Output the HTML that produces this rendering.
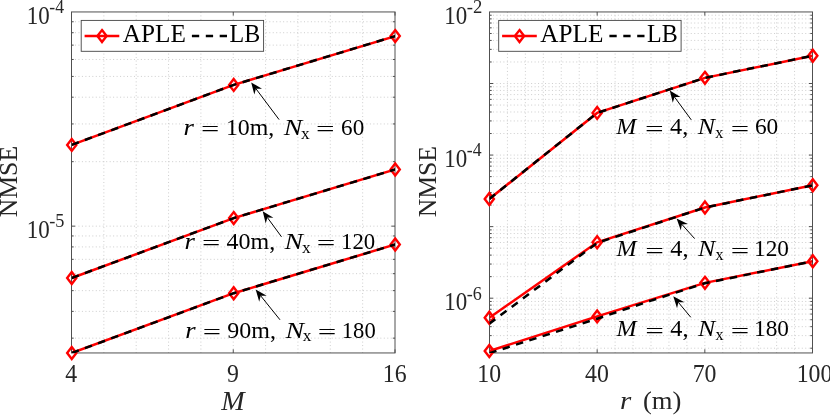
<!DOCTYPE html>
<html><head><meta charset="utf-8"><title>NMSE</title>
<style>html,body{margin:0;padding:0;background:#fff}svg{display:block}text{font-family:"Liberation Serif", serif}</style></head><body>
<svg width="830" height="417" viewBox="0 0 830 417">
<rect width="830" height="417" fill="#fff"/>
<clipPath id="c1"><rect x="71.5" y="11.95" width="323.5" height="341"/></clipPath>
<g stroke="#c8c8c8" stroke-width="0.9" stroke-dasharray="1 2.47" fill="none">
<path d="M71.5 338.15H395"/>
<path d="M71.5 311.39H395"/>
<path d="M71.5 290.63H395"/>
<path d="M71.5 273.67H395"/>
<path d="M71.5 259.33H395"/>
<path d="M71.5 246.91H395"/>
<path d="M71.5 235.95H395"/>
<path d="M71.5 226.15H395"/>
<path d="M71.5 161.67H395"/>
<path d="M71.5 123.95H395"/>
<path d="M71.5 97.19H395"/>
<path d="M71.5 76.43H395"/>
<path d="M71.5 59.47H395"/>
<path d="M71.5 45.13H395"/>
<path d="M71.5 32.71H395"/>
<path d="M71.5 21.75H395"/>
<path d="M103.85 11.95V352.95"/>
<path d="M136.2 11.95V352.95"/>
<path d="M168.55 11.95V352.95"/>
<path d="M200.9 11.95V352.95"/>
<path d="M233.25 11.95V352.95"/>
<path d="M265.6 11.95V352.95"/>
<path d="M297.95 11.95V352.95"/>
<path d="M330.3 11.95V352.95"/>
<path d="M362.65 11.95V352.95"/>
</g>
<g stroke="#505050" stroke-width="1" fill="none">
<path d="M71.5 338.15h2.2M395 338.15h-2.2"/>
<path d="M71.5 311.39h2.2M395 311.39h-2.2"/>
<path d="M71.5 290.63h2.2M395 290.63h-2.2"/>
<path d="M71.5 273.67h2.2M395 273.67h-2.2"/>
<path d="M71.5 259.33h2.2M395 259.33h-2.2"/>
<path d="M71.5 246.91h2.2M395 246.91h-2.2"/>
<path d="M71.5 235.95h2.2M395 235.95h-2.2"/>
<path d="M71.5 226.15h3.6M395 226.15h-3.6"/>
<path d="M71.5 161.67h2.2M395 161.67h-2.2"/>
<path d="M71.5 123.95h2.2M395 123.95h-2.2"/>
<path d="M71.5 97.19h2.2M395 97.19h-2.2"/>
<path d="M71.5 76.43h2.2M395 76.43h-2.2"/>
<path d="M71.5 59.47h2.2M395 59.47h-2.2"/>
<path d="M71.5 45.13h2.2M395 45.13h-2.2"/>
<path d="M71.5 32.71h2.2M395 32.71h-2.2"/>
<path d="M71.5 21.75h2.2M395 21.75h-2.2"/>
<path d="M71.5 352.95v-3.6M71.5 11.95v3.6"/>
<path d="M233.25 352.95v-3.6M233.25 11.95v3.6"/>
<path d="M395 352.95v-3.6M395 11.95v3.6"/>
<rect x="71.5" y="11.95" width="323.5" height="341"/>
</g>
<g clip-path="url(#c1)" fill="none" stroke-width="2.5" stroke="#f00">
<polyline points="71.75,144.9 233.7,84.9 395.2,36.1"/>
<polyline points="71.75,278 233.7,218.1 395.2,169.5"/>
<polyline points="71.75,353 233.7,293.2 395.2,244.5"/>
</g>
<path d="M71.75 138.9L76.35 144.9L71.75 150.9L67.15 144.9Z" fill="none" stroke="#f00" stroke-width="2.4" stroke-linejoin="miter"/>
<path d="M233.7 78.9L238.3 84.9L233.7 90.9L229.1 84.9Z" fill="none" stroke="#f00" stroke-width="2.4" stroke-linejoin="miter"/>
<path d="M395.2 30.1L399.8 36.1L395.2 42.1L390.6 36.1Z" fill="none" stroke="#f00" stroke-width="2.4" stroke-linejoin="miter"/>
<path d="M71.75 272L76.35 278L71.75 284L67.15 278Z" fill="none" stroke="#f00" stroke-width="2.4" stroke-linejoin="miter"/>
<path d="M233.7 212.1L238.3 218.1L233.7 224.1L229.1 218.1Z" fill="none" stroke="#f00" stroke-width="2.4" stroke-linejoin="miter"/>
<path d="M395.2 163.5L399.8 169.5L395.2 175.5L390.6 169.5Z" fill="none" stroke="#f00" stroke-width="2.4" stroke-linejoin="miter"/>
<path d="M71.75 347L76.35 353L71.75 359L67.15 353Z" fill="none" stroke="#f00" stroke-width="2.4" stroke-linejoin="miter"/>
<path d="M233.7 287.2L238.3 293.2L233.7 299.2L229.1 293.2Z" fill="none" stroke="#f00" stroke-width="2.4" stroke-linejoin="miter"/>
<path d="M395.2 238.5L399.8 244.5L395.2 250.5L390.6 244.5Z" fill="none" stroke="#f00" stroke-width="2.4" stroke-linejoin="miter"/>
<g clip-path="url(#c1)" fill="none" stroke-width="2.5" stroke="#000" stroke-dasharray="7.5 6.5">
<polyline points="71.75,144.9 233.7,84.9 395.2,36.1"/>
<polyline points="71.75,278 233.7,218.1 395.2,169.5"/>
<polyline points="71.75,353 233.7,293.2 395.2,244.5"/>
</g>
<clipPath id="c2"><rect x="489.5" y="11.95" width="323" height="341"/></clipPath>
<g stroke="#c8c8c8" stroke-width="0.9" stroke-dasharray="1 2.47" fill="none">
<path d="M489.5 348.21H812.5"/>
<path d="M489.5 335.61H812.5"/>
<path d="M489.5 326.67H812.5"/>
<path d="M489.5 319.73H812.5"/>
<path d="M489.5 314.07H812.5"/>
<path d="M489.5 309.27H812.5"/>
<path d="M489.5 305.12H812.5"/>
<path d="M489.5 301.46H812.5"/>
<path d="M489.5 298.19H812.5"/>
<path d="M489.5 276.65H812.5"/>
<path d="M489.5 264.05H812.5"/>
<path d="M489.5 255.11H812.5"/>
<path d="M489.5 248.17H812.5"/>
<path d="M489.5 242.51H812.5"/>
<path d="M489.5 237.71H812.5"/>
<path d="M489.5 233.56H812.5"/>
<path d="M489.5 229.9H812.5"/>
<path d="M489.5 226.63H812.5"/>
<path d="M489.5 205.09H812.5"/>
<path d="M489.5 192.49H812.5"/>
<path d="M489.5 183.55H812.5"/>
<path d="M489.5 176.61H812.5"/>
<path d="M489.5 170.95H812.5"/>
<path d="M489.5 166.15H812.5"/>
<path d="M489.5 162H812.5"/>
<path d="M489.5 158.34H812.5"/>
<path d="M489.5 155.07H812.5"/>
<path d="M489.5 133.53H812.5"/>
<path d="M489.5 120.93H812.5"/>
<path d="M489.5 111.99H812.5"/>
<path d="M489.5 105.05H812.5"/>
<path d="M489.5 99.39H812.5"/>
<path d="M489.5 94.59H812.5"/>
<path d="M489.5 90.44H812.5"/>
<path d="M489.5 86.78H812.5"/>
<path d="M489.5 83.51H812.5"/>
<path d="M489.5 61.97H812.5"/>
<path d="M489.5 49.37H812.5"/>
<path d="M489.5 40.43H812.5"/>
<path d="M489.5 33.49H812.5"/>
<path d="M489.5 27.83H812.5"/>
<path d="M489.5 23.03H812.5"/>
<path d="M489.5 18.88H812.5"/>
<path d="M489.5 15.22H812.5"/>
<path d="M507.44 11.95V352.95"/>
<path d="M525.39 11.95V352.95"/>
<path d="M543.33 11.95V352.95"/>
<path d="M561.28 11.95V352.95"/>
<path d="M579.22 11.95V352.95"/>
<path d="M597.17 11.95V352.95"/>
<path d="M615.11 11.95V352.95"/>
<path d="M633.06 11.95V352.95"/>
<path d="M651 11.95V352.95"/>
<path d="M668.94 11.95V352.95"/>
<path d="M686.89 11.95V352.95"/>
<path d="M704.83 11.95V352.95"/>
<path d="M722.78 11.95V352.95"/>
<path d="M740.72 11.95V352.95"/>
<path d="M758.67 11.95V352.95"/>
<path d="M776.61 11.95V352.95"/>
<path d="M794.56 11.95V352.95"/>
</g>
<g stroke="#505050" stroke-width="1" fill="none">
<path d="M489.5 348.21h2.2M812.5 348.21h-2.2"/>
<path d="M489.5 335.61h2.2M812.5 335.61h-2.2"/>
<path d="M489.5 326.67h2.2M812.5 326.67h-2.2"/>
<path d="M489.5 319.73h2.2M812.5 319.73h-2.2"/>
<path d="M489.5 314.07h2.2M812.5 314.07h-2.2"/>
<path d="M489.5 309.27h2.2M812.5 309.27h-2.2"/>
<path d="M489.5 305.12h2.2M812.5 305.12h-2.2"/>
<path d="M489.5 301.46h2.2M812.5 301.46h-2.2"/>
<path d="M489.5 298.19h3.6M812.5 298.19h-3.6"/>
<path d="M489.5 276.65h2.2M812.5 276.65h-2.2"/>
<path d="M489.5 264.05h2.2M812.5 264.05h-2.2"/>
<path d="M489.5 255.11h2.2M812.5 255.11h-2.2"/>
<path d="M489.5 248.17h2.2M812.5 248.17h-2.2"/>
<path d="M489.5 242.51h2.2M812.5 242.51h-2.2"/>
<path d="M489.5 237.71h2.2M812.5 237.71h-2.2"/>
<path d="M489.5 233.56h2.2M812.5 233.56h-2.2"/>
<path d="M489.5 229.9h2.2M812.5 229.9h-2.2"/>
<path d="M489.5 226.63h3.6M812.5 226.63h-3.6"/>
<path d="M489.5 205.09h2.2M812.5 205.09h-2.2"/>
<path d="M489.5 192.49h2.2M812.5 192.49h-2.2"/>
<path d="M489.5 183.55h2.2M812.5 183.55h-2.2"/>
<path d="M489.5 176.61h2.2M812.5 176.61h-2.2"/>
<path d="M489.5 170.95h2.2M812.5 170.95h-2.2"/>
<path d="M489.5 166.15h2.2M812.5 166.15h-2.2"/>
<path d="M489.5 162h2.2M812.5 162h-2.2"/>
<path d="M489.5 158.34h2.2M812.5 158.34h-2.2"/>
<path d="M489.5 155.07h3.6M812.5 155.07h-3.6"/>
<path d="M489.5 133.53h2.2M812.5 133.53h-2.2"/>
<path d="M489.5 120.93h2.2M812.5 120.93h-2.2"/>
<path d="M489.5 111.99h2.2M812.5 111.99h-2.2"/>
<path d="M489.5 105.05h2.2M812.5 105.05h-2.2"/>
<path d="M489.5 99.39h2.2M812.5 99.39h-2.2"/>
<path d="M489.5 94.59h2.2M812.5 94.59h-2.2"/>
<path d="M489.5 90.44h2.2M812.5 90.44h-2.2"/>
<path d="M489.5 86.78h2.2M812.5 86.78h-2.2"/>
<path d="M489.5 83.51h3.6M812.5 83.51h-3.6"/>
<path d="M489.5 61.97h2.2M812.5 61.97h-2.2"/>
<path d="M489.5 49.37h2.2M812.5 49.37h-2.2"/>
<path d="M489.5 40.43h2.2M812.5 40.43h-2.2"/>
<path d="M489.5 33.49h2.2M812.5 33.49h-2.2"/>
<path d="M489.5 27.83h2.2M812.5 27.83h-2.2"/>
<path d="M489.5 23.03h2.2M812.5 23.03h-2.2"/>
<path d="M489.5 18.88h2.2M812.5 18.88h-2.2"/>
<path d="M489.5 15.22h2.2M812.5 15.22h-2.2"/>
<path d="M489.5 352.95v-3.6M489.5 11.95v3.6"/>
<path d="M597.17 352.95v-3.6M597.17 11.95v3.6"/>
<path d="M704.83 352.95v-3.6M704.83 11.95v3.6"/>
<path d="M812.5 352.95v-3.6M812.5 11.95v3.6"/>
<rect x="489.5" y="11.95" width="323" height="341"/>
</g>
<g clip-path="url(#c2)" fill="none" stroke-width="2.5" stroke="#f00">
<polyline points="489.3,198.95 597.15,112.9 704.95,77.85 812.8,55.75"/>
<polyline points="489.3,317.8 597.15,242.3 704.95,207.5 812.8,185.3"/>
<polyline points="489.3,351 597.15,316.4 704.95,282.85 812.8,261.3"/>
</g>
<path d="M489.3 192.95L493.9 198.95L489.3 204.95L484.7 198.95Z" fill="none" stroke="#f00" stroke-width="2.4" stroke-linejoin="miter"/>
<path d="M597.15 106.9L601.75 112.9L597.15 118.9L592.55 112.9Z" fill="none" stroke="#f00" stroke-width="2.4" stroke-linejoin="miter"/>
<path d="M704.95 71.85L709.55 77.85L704.95 83.85L700.35 77.85Z" fill="none" stroke="#f00" stroke-width="2.4" stroke-linejoin="miter"/>
<path d="M812.8 49.75L817.4 55.75L812.8 61.75L808.2 55.75Z" fill="none" stroke="#f00" stroke-width="2.4" stroke-linejoin="miter"/>
<path d="M489.3 311.8L493.9 317.8L489.3 323.8L484.7 317.8Z" fill="none" stroke="#f00" stroke-width="2.4" stroke-linejoin="miter"/>
<path d="M597.15 236.3L601.75 242.3L597.15 248.3L592.55 242.3Z" fill="none" stroke="#f00" stroke-width="2.4" stroke-linejoin="miter"/>
<path d="M704.95 201.5L709.55 207.5L704.95 213.5L700.35 207.5Z" fill="none" stroke="#f00" stroke-width="2.4" stroke-linejoin="miter"/>
<path d="M812.8 179.3L817.4 185.3L812.8 191.3L808.2 185.3Z" fill="none" stroke="#f00" stroke-width="2.4" stroke-linejoin="miter"/>
<path d="M489.3 345L493.9 351L489.3 357L484.7 351Z" fill="none" stroke="#f00" stroke-width="2.4" stroke-linejoin="miter"/>
<path d="M597.15 310.4L601.75 316.4L597.15 322.4L592.55 316.4Z" fill="none" stroke="#f00" stroke-width="2.4" stroke-linejoin="miter"/>
<path d="M704.95 276.85L709.55 282.85L704.95 288.85L700.35 282.85Z" fill="none" stroke="#f00" stroke-width="2.4" stroke-linejoin="miter"/>
<path d="M812.8 255.3L817.4 261.3L812.8 267.3L808.2 261.3Z" fill="none" stroke="#f00" stroke-width="2.4" stroke-linejoin="miter"/>
<g clip-path="url(#c2)" fill="none" stroke-width="2.5" stroke="#000" stroke-dasharray="7.5 6.5">
<polyline points="489.3,198.95 597.15,112.9 704.95,77.85 812.8,55.75"/>
<polyline points="489.3,323.7 597.15,242.9 704.95,207.5 812.8,185.3"/>
</g>
<g clip-path="url(#c2)" fill="none" stroke-width="2.5" stroke="#000" stroke-dasharray="7.5 6.5">
<polyline points="489.3,353.2 597.15,318.7 651.05,300.6 704.95,283.2 812.8,261.3"/>
</g>
<rect x="81.2" y="20.4" width="182.4" height="30.9" fill="#fff" stroke="#444" stroke-width="0.9"/>
<line x1="84.6" y1="36" x2="119.3" y2="36" stroke="#f00" stroke-width="2.5" />
<path d="M102 30.1L106.6 36.1L102 42.1L97.4 36.1Z" fill="none" stroke="#f00" stroke-width="2.4" stroke-linejoin="miter"/>
<text transform="translate(122.75,41.6) scale(1.0304,1)" font-size="24.5" fill="#000">APLE</text>
<line x1="191.9" y1="36" x2="227.7" y2="36" stroke="#000" stroke-width="2.5" stroke-dasharray="7.3 6.6"/>
<text transform="translate(229.48,41.6) scale(0.9816,1)" font-size="24.5" fill="#000">LB</text>
<rect x="498.7" y="20.4" width="182.4" height="30.9" fill="#fff" stroke="#444" stroke-width="0.9"/>
<line x1="502.1" y1="36" x2="536.8" y2="36" stroke="#f00" stroke-width="2.5" />
<path d="M519.5 30.1L524.1 36.1L519.5 42.1L514.9 36.1Z" fill="none" stroke="#f00" stroke-width="2.4" stroke-linejoin="miter"/>
<text transform="translate(540.25,41.6) scale(1.0304,1)" font-size="24.5" fill="#000">APLE</text>
<line x1="609.4" y1="36" x2="645.2" y2="36" stroke="#000" stroke-width="2.5" stroke-dasharray="7.3 6.6"/>
<text transform="translate(646.98,41.6) scale(0.9816,1)" font-size="24.5" fill="#000">LB</text>
<text transform="translate(26.69,23.8) scale(0.9652,1.04)" font-size="23.8" fill="#262626">10</text>
<text transform="translate(49.24,13.3) scale(0.9668,1.03)" font-size="18.3" fill="#262626">-4</text>
<text transform="translate(26.69,237.9) scale(0.9652,1.04)" font-size="23.8" fill="#262626">10</text>
<text transform="translate(49.21,227.4) scale(0.9988,1.03)" font-size="18.3" fill="#262626">-5</text>
<text transform="translate(444.29,23.8) scale(0.9652,1.04)" font-size="23.8" fill="#262626">10</text>
<text transform="translate(466.8,13.3) scale(1.0191,1.03)" font-size="18.3" fill="#262626">-2</text>
<text transform="translate(444.29,166.9) scale(0.9652,1.04)" font-size="23.8" fill="#262626">10</text>
<text transform="translate(466.84,156.4) scale(0.9668,1.03)" font-size="18.3" fill="#262626">-4</text>
<text transform="translate(444.29,310) scale(0.9652,1.04)" font-size="23.8" fill="#262626">10</text>
<text transform="translate(466.82,299.5) scale(0.9857,1.03)" font-size="18.3" fill="#262626">-6</text>
<text transform="translate(71.2,381.7) scale(1,1.04)" font-size="23.8" fill="#262626" text-anchor="middle">4</text>
<text transform="translate(232.95,381.7) scale(1,1.04)" font-size="23.8" fill="#262626" text-anchor="middle">9</text>
<text transform="translate(394.7,381.7) scale(1,1.04)" font-size="23.8" fill="#262626" text-anchor="middle">16</text>
<text transform="translate(489.2,381.7) scale(1,1.04)" font-size="23.8" fill="#262626" text-anchor="middle">10</text>
<text transform="translate(596.87,381.7) scale(1,1.04)" font-size="23.8" fill="#262626" text-anchor="middle">40</text>
<text transform="translate(704.53,381.7) scale(1,1.04)" font-size="23.8" fill="#262626" text-anchor="middle">70</text>
<text transform="translate(814.5,381.7) scale(1,1.04)" font-size="23.8" fill="#262626" text-anchor="middle">100</text>
<text transform="translate(17.4,217.27) rotate(-90) scale(0.9881,1)" font-size="26" fill="#262626">NMSE</text>
<text transform="translate(436,217.37) rotate(-90) scale(0.9867,1)" font-size="26" fill="#262626">NMSE</text>
<text transform="translate(221.35,409.7) scale(1.06,1)" font-size="26.5" fill="#262626" font-style="italic">M</text>
<text transform="translate(619.94,408.8) scale(1.1129,1)" font-size="26" fill="#262626" font-style="italic">r</text>
<text transform="translate(643,408.8) scale(1.0247,1)" font-size="26" fill="#262626">(m)</text>
<text transform="translate(183.53,134.9) scale(1.1111,1)" font-size="24" fill="#000" font-style="italic">r</text>
<text transform="translate(201.08,136.42) scale(1.5841,1)" font-size="20.5" fill="#000">=</text>
<text transform="translate(225.91,134.9) scale(0.9942,1)" font-size="24" fill="#000">10m,</text>
<text transform="translate(283.71,134.9) scale(1.1574,1)" font-size="24" fill="#000" font-style="italic">N</text>
<text transform="translate(301.03,138.6) scale(1.0225,1)" font-size="17" fill="#000">x</text>
<text transform="translate(315.95,136.42) scale(1.605,1)" font-size="20.5" fill="#000">=</text>
<text transform="translate(341.12,134.9) scale(0.9647,1)" font-size="24" fill="#000">60</text>
<text transform="translate(184.43,248.8) scale(1.1111,1)" font-size="24" fill="#000" font-style="italic">r</text>
<text transform="translate(201.98,250.32) scale(1.5841,1)" font-size="20.5" fill="#000">=</text>
<text transform="translate(226.52,248.8) scale(1.0004,1)" font-size="24" fill="#000">40m,</text>
<text transform="translate(284.61,248.8) scale(1.1574,1)" font-size="24" fill="#000" font-style="italic">N</text>
<text transform="translate(301.93,252.5) scale(1.0225,1)" font-size="17" fill="#000">x</text>
<text transform="translate(316.85,250.32) scale(1.605,1)" font-size="20.5" fill="#000">=</text>
<text transform="translate(341.01,248.8) scale(0.9485,1)" font-size="24" fill="#000">120</text>
<text transform="translate(185.23,337.7) scale(1.1111,1)" font-size="24" fill="#000" font-style="italic">r</text>
<text transform="translate(202.78,339.22) scale(1.5841,1)" font-size="20.5" fill="#000">=</text>
<text transform="translate(227.32,337.7) scale(1.0004,1)" font-size="24" fill="#000">90m,</text>
<text transform="translate(285.41,337.7) scale(1.1574,1)" font-size="24" fill="#000" font-style="italic">N</text>
<text transform="translate(302.73,341.4) scale(1.0225,1)" font-size="17" fill="#000">x</text>
<text transform="translate(317.65,339.22) scale(1.605,1)" font-size="20.5" fill="#000">=</text>
<text transform="translate(341.82,337.7) scale(0.9424,1)" font-size="24" fill="#000">180</text>
<text transform="translate(616.3,134) scale(1.0066,1)" font-size="24" fill="#000" font-style="italic">M</text>
<text transform="translate(645.04,135.52) scale(1.6155,1)" font-size="20.5" fill="#000">=</text>
<text transform="translate(670.11,134) scale(1.0112,1)" font-size="24" fill="#000">4,</text>
<text transform="translate(697.79,134) scale(1.0764,1)" font-size="24" fill="#000" font-style="italic">N</text>
<text transform="translate(715.24,137.7) scale(0.9486,1)" font-size="17" fill="#000">x</text>
<text transform="translate(730.67,135.52) scale(1.5945,1)" font-size="20.5" fill="#000">=</text>
<text transform="translate(754.91,134) scale(0.9737,1)" font-size="24" fill="#000">60</text>
<text transform="translate(616.5,256.2) scale(1.0066,1)" font-size="24" fill="#000" font-style="italic">M</text>
<text transform="translate(645.24,257.72) scale(1.6155,1)" font-size="20.5" fill="#000">=</text>
<text transform="translate(670.31,256.2) scale(1.0112,1)" font-size="24" fill="#000">4,</text>
<text transform="translate(697.99,256.2) scale(1.0764,1)" font-size="24" fill="#000" font-style="italic">N</text>
<text transform="translate(715.44,259.9) scale(0.9486,1)" font-size="17" fill="#000">x</text>
<text transform="translate(730.87,257.72) scale(1.5945,1)" font-size="20.5" fill="#000">=</text>
<text transform="translate(754.06,256.2) scale(0.9697,1)" font-size="24" fill="#000">120</text>
<text transform="translate(616.5,336.2) scale(1.0066,1)" font-size="24" fill="#000" font-style="italic">M</text>
<text transform="translate(645.24,337.72) scale(1.6155,1)" font-size="20.5" fill="#000">=</text>
<text transform="translate(670.31,336.2) scale(1.0112,1)" font-size="24" fill="#000">4,</text>
<text transform="translate(697.99,336.2) scale(1.0764,1)" font-size="24" fill="#000" font-style="italic">N</text>
<text transform="translate(715.44,339.9) scale(0.9486,1)" font-size="17" fill="#000">x</text>
<text transform="translate(730.87,337.72) scale(1.5945,1)" font-size="20.5" fill="#000">=</text>
<text transform="translate(754.06,336.2) scale(0.9697,1)" font-size="24" fill="#000">180</text>
<line x1="255.94" y1="88.72" x2="279.1" y2="119.6" stroke="#000" stroke-width="1" />
<path d="M251.2 82.4L254.32 94.56L255.94 88.72L262 88.8Z" fill="#000"/>
<line x1="267.38" y1="217.57" x2="281.5" y2="236.8" stroke="#000" stroke-width="1" />
<path d="M262.7 211.2L265.7 223.39L267.38 217.57L273.43 217.71Z" fill="#000"/>
<line x1="260.65" y1="295.75" x2="280" y2="319.8" stroke="#000" stroke-width="1" />
<path d="M255.7 289.6L259.23 301.65L260.65 295.75L266.71 295.63Z" fill="#000"/>
<line x1="674.47" y1="96.97" x2="691.3" y2="119.9" stroke="#000" stroke-width="1" />
<path d="M669.8 90.6L672.79 102.79L674.47 96.97L680.53 97.11Z" fill="#000"/>
<line x1="681.87" y1="224.39" x2="694.6" y2="238.6" stroke="#000" stroke-width="1" />
<path d="M676.6 218.5L680.76 230.34L681.87 224.39L687.91 223.94Z" fill="#000"/>
<line x1="678.36" y1="302.37" x2="690.8" y2="317.3" stroke="#000" stroke-width="1" />
<path d="M673.3 296.3L677.04 308.28L678.36 302.37L684.41 302.14Z" fill="#000"/>
</svg></body></html>
